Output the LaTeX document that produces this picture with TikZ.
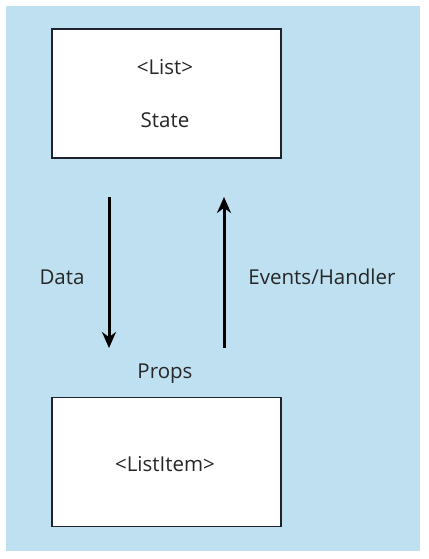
\documentclass[tikz,border=0pt]{standalone}
\usepackage{fontspec}
\setmainfont{Open Sans}
\usetikzlibrary{arrows.meta}
\definecolor{bgblue}{RGB}{190,224,240}
\definecolor{boxline}{RGB}{30,35,45}
\tikzset{
  comp/.style={draw=boxline, line width=1.3pt, fill=white, minimum width=229pt, minimum height=129pt, inner sep=0pt},
  lbl/.style={font=\fontsize{20.5}{24}\selectfont, text=black!85, inner sep=0pt},
  flow/.style={line width=3pt, -{Stealth[length=16pt,width=14pt]}}
}
\begin{document}
\begin{tikzpicture}[x=1pt,y=-1pt]
\useasboundingbox (0,0) rectangle (428,559);
\fill[white] (0,0) rectangle (428,559);
\fill[bgblue] (6,6) rectangle (420,551);
\node[comp] (list) at (166.5,93.5) {};
\node[lbl] (listname) at (165,67) {<List>};
\node[lbl] (state) at (165,120) {State};
\node[comp] (item) at (166.5,462) {};
\node[lbl] (itemname) at (165,464) {<ListItem>};
\coordinate (d1) at (109,197);
\coordinate (d2) at (109,348);
\coordinate (u1) at (224,348);
\coordinate (u2) at (224,197);
\draw[flow] (d1) -- (d2);
\draw[flow] (u1) -- (u2);
\node[lbl] (data) at (62,277) {Data};
\node[lbl] (events) at (322,277) {Events/Handler};
\node[lbl] (props) at (165,374) {Props};
\end{tikzpicture}
\end{document}
